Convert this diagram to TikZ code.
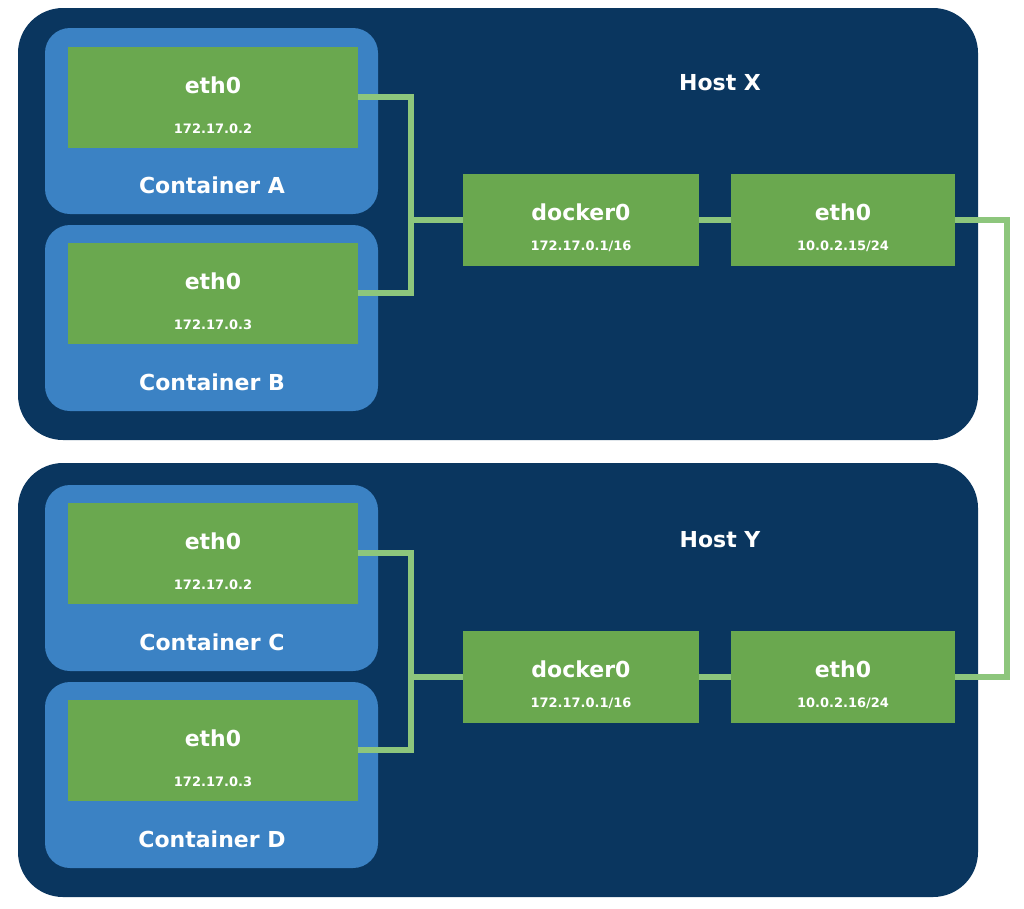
\documentclass[tikz,border=0pt]{standalone}
\usepackage{fontspec}
\setmainfont{DejaVu Sans}
\definecolor{host}{HTML}{0A365F}
\definecolor{cont}{HTML}{3B82C4}
\definecolor{grn}{HTML}{6AA84F}
\definecolor{lin}{HTML}{8DC67C}
\begin{document}
\begin{tikzpicture}[x=1pt,y=-1pt,
 hostbox/.style={fill=host,rounded corners=45pt},
 contbox/.style={fill=cont,rounded corners=25pt},
 gbox/.style={fill=grn,draw=none,inner sep=0pt},
 big/.style={text=white,font=\bfseries\fontsize{22}{24}\selectfont},
 small/.style={text=white,font=\bfseries\fontsize{13}{15}\selectfont},
 wire/.style={draw=lin,line width=6pt}]
\useasboundingbox (0,0) rectangle (1024,908);
\fill[hostbox] (18,8) rectangle (978,440);
\fill[hostbox] (18,463) rectangle (978,897);
\foreach \t/\n in {28/A,225/B,485/C,682/D}{
  \fill[contbox] (45,\t) rectangle (378,\t+186);
  \node[big] at (212,\t+157) {Container \n};
}
% container eth0 boxes
\foreach \t/\n/\ip in {47/ea/172.17.0.2/16,243/eb/172.17.0.3/16,503/ec/172.17.0.2/16,700/ed/172.17.0.3/16}{
  \node[gbox,minimum width=290pt,minimum height=101pt] (\n) at (213,\t+50) {};
  \node[big] at (213,\t+38) {eth0};
  \node[small] at (213,\t+82) {\ip};
}
\node[gbox,minimum width=236pt,minimum height=92pt] (dx) at (581,220) {};
\node[big] at (581,212) {docker0}; \node[small] at (581,246) {172.17.0.1/16};
\node[gbox,minimum width=224pt,minimum height=92pt] (hx) at (843,220) {};
\node[big] at (843,212) {eth0}; \node[small] at (843,246) {10.0.2.15/24};
\node[gbox,minimum width=236pt,minimum height=92pt] (dy) at (581,677) {};
\node[big] at (581,669) {docker0}; \node[small] at (581,703) {172.17.0.1/16};
\node[gbox,minimum width=224pt,minimum height=92pt] (hy) at (843,677) {};
\node[big] at (843,669) {eth0}; \node[small] at (843,703) {10.0.2.16/24};
\node[big] (lx) at (720,83) {Host X};
\node[big] (ly) at (720,540) {Host Y};
% wires
\draw[wire] (ea.east) -- (411,97) -- (411,293) -- (eb.east);
\draw[wire] (411,220) -- (dx.west);
\draw[wire] (dx.east) -- (hx.west);
\draw[wire] (ec.east) -- (411,553) -- (411,750) -- (ed.east);
\draw[wire] (411,677) -- (dy.west);
\draw[wire] (dy.east) -- (hy.west);
\draw[wire] (hx.east) -- (1007,220) -- (1007,677) -- (hy.east);
\end{tikzpicture}
\end{document}
